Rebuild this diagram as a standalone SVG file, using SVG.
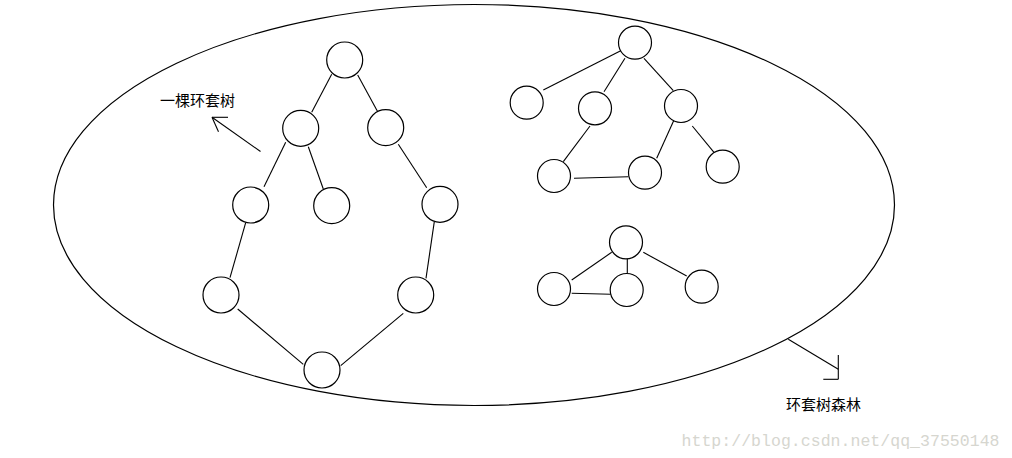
<svg xmlns="http://www.w3.org/2000/svg" width="1012" height="458" viewBox="0 0 1012 458">
<style>
.n{fill:#fff;stroke:#000;stroke-width:1.2}
.e line{stroke:#000;stroke-width:1.1}
.lbl{font-family:"Noto Sans CJK SC","Liberation Sans",sans-serif;font-size:15px;fill:#000}
.wm{font-family:"Liberation Mono",monospace;font-size:16.5px;fill:#d6d6cf}
</style>
<rect width="1012" height="458" fill="#fff"/>
<g id="forest"><ellipse cx="474" cy="205" rx="420.5" ry="200.5" fill="none" stroke="#000" stroke-width="1.2"/></g>
<g id="connectors" class="e">
<line x1="331.7" y1="74.3" x2="311.7" y2="112.3"/>
<line x1="357.7" y1="75" x2="377.7" y2="111.7"/>
<line x1="285.7" y1="142.3" x2="264" y2="186.7"/>
<line x1="308.3" y1="146.7" x2="323.3" y2="189"/>
<line x1="398.3" y1="144.3" x2="426.7" y2="187.7"/>
<line x1="245.7" y1="222.7" x2="230" y2="277.7"/>
<line x1="434.3" y1="221.7" x2="426" y2="278.3"/>
<line x1="237.7" y1="309" x2="303.3" y2="364.3"/>
<line x1="403.3" y1="313.3" x2="340.7" y2="365.7"/>
<line x1="620.7" y1="50.7" x2="543.3" y2="90"/>
<line x1="625" y1="58.3" x2="604" y2="91.7"/>
<line x1="644" y1="58.3" x2="673.3" y2="90.7"/>
<line x1="590" y1="126" x2="563.3" y2="161.7"/>
<line x1="674" y1="120" x2="656.7" y2="158.3"/>
<line x1="692.3" y1="126" x2="714" y2="152.3"/>
<line x1="574" y1="178.3" x2="628.3" y2="176.7"/>
<line x1="611.7" y1="252.3" x2="571.7" y2="280"/>
<line x1="627.3" y1="259" x2="627.3" y2="273.3"/>
<line x1="643.3" y1="252.3" x2="686.7" y2="276"/>
<line x1="571.7" y1="293.3" x2="610.7" y2="294.3"/>
<line x1="260.5" y1="151.5" x2="212" y2="117.3"/>
<line x1="212" y1="117.3" x2="228" y2="117.3"/>
<line x1="212" y1="117.3" x2="218.5" y2="131.7"/>
<line x1="788.3" y1="339.3" x2="838.3" y2="369.3"/>
<line x1="838.3" y1="355" x2="838.3" y2="379.3"/>
<line x1="823.3" y1="379.3" x2="838.3" y2="379.3"/>
</g>
<g id="n1"><circle class="n" cx="344.7" cy="60" r="18"/></g>
<g id="n2"><circle class="n" cx="300.7" cy="128.3" r="18"/></g>
<g id="n3"><circle class="n" cx="385.7" cy="127.7" r="18"/></g>
<g id="n4"><circle class="n" cx="250.7" cy="205" r="18"/></g>
<g id="n5"><circle class="n" cx="331.7" cy="205.7" r="18"/></g>
<g id="n6"><circle class="n" cx="440" cy="204.3" r="18"/></g>
<g id="n7"><circle class="n" cx="221" cy="295" r="18"/></g>
<g id="n8"><circle class="n" cx="415.7" cy="295" r="18"/></g>
<g id="n9"><circle class="n" cx="322" cy="370" r="18"/></g>
<g id="m1"><circle class="n" cx="635" cy="42.7" r="16.5"/></g>
<g id="m2"><circle class="n" cx="526.7" cy="102.7" r="16.5"/></g>
<g id="m3"><circle class="n" cx="595" cy="108.3" r="16.5"/></g>
<g id="m4"><circle class="n" cx="681" cy="106" r="16.5"/></g>
<g id="m5"><circle class="n" cx="554" cy="176" r="16.5"/></g>
<g id="m6"><circle class="n" cx="645" cy="172.7" r="16.5"/></g>
<g id="m7"><circle class="n" cx="722.7" cy="166.7" r="16.5"/></g>
<g id="k1"><circle class="n" cx="626" cy="242.3" r="16.5"/></g>
<g id="k2"><circle class="n" cx="554" cy="289" r="16.5"/></g>
<g id="k3"><circle class="n" cx="626.7" cy="290" r="16.5"/></g>
<g id="k4"><circle class="n" cx="701.7" cy="286.7" r="16.5"/></g>
<g id="label1"><text class="lbl" x="160" y="106" textLength="75">一棵环套树</text></g>
<g id="label2"><text class="lbl" x="786" y="410" textLength="75">环套树森林</text></g>
<g id="watermark"><text class="wm" x="681.5" y="445.5" textLength="318">http://blog.csdn.net/qq_37550148</text></g>
</svg>
